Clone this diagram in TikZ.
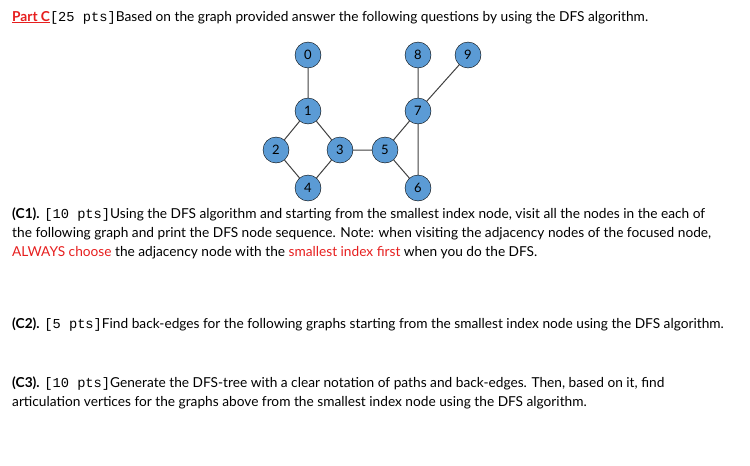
\documentclass[tikz,border=0pt]{standalone}
\usepackage{fontspec}
\setmainfont{Lato}
\newfontfamily\mono{Liberation Mono}
\definecolor{nodeblue}{RGB}{91,155,213}
\definecolor{redtxt}{RGB}{230,30,30}
\begin{document}
\begin{tikzpicture}[x=1pt,y=-1pt,
  vtx/.style={circle,draw=black,fill=nodeblue,minimum size=26pt,inner sep=0pt,font=\fontsize{13}{15}\selectfont},
  edge/.style={draw=black!75,line width=1pt},
  txt/.style={anchor=base west,inner sep=0pt,font=\fontsize{13.7}{16}\selectfont}]
\useasboundingbox (0,0) rectangle (750,466);
\node[vtx] (n0) at (308,55) {0};
\node[vtx] (n1) at (308,111) {1};
\node[vtx] (n2) at (276,150) {2};
\node[vtx] (n3) at (340,150) {3};
\node[vtx] (n4) at (308,188) {4};
\node[vtx] (n5) at (385,150) {5};
\node[vtx] (n7) at (418,111) {7};
\node[vtx] (n8) at (418,55) {8};
\node[vtx] (n9) at (468,55) {9};
\node[vtx] (n6) at (418,188) {6};
\draw[edge] (n0)--(n1) (n1)--(n2) (n1)--(n3) (n2)--(n4) (n3)--(n4) (n3)--(n5)
  (n5)--(n7) (n5)--(n6) (n7)--(n6) (n7)--(n8) (n7)--(n9);
\node[txt] (t1) at (12,21) {\textcolor{redtxt}{\underline{\textbf{Part C}}}{\mono[25 pts]}Based on the graph provided answer the following questions by using the DFS algorithm.};
\node[txt] (t2) at (12,218) {\textbf{(C1).} {\mono[10 pts]}Using the DFS algorithm and starting from the smallest index node, visit all the nodes in the each of};
\node[txt] (t3) at (12,237) {the following graph and print the DFS node sequence. Note: when visiting the adjacency nodes of the focused node,};
\node[txt] (t4) at (12,256) {\textcolor{redtxt}{ALWAYS choose} the adjacency node with the \textcolor{redtxt}{smallest index first} when you do the DFS.};
\node[txt] (t5) at (12,328) {\textbf{(C2).} {\mono[5 pts]}Find back-edges for the following graphs starting from the smallest index node using the DFS algorithm.};
\node[txt] (t6) at (12,387) {\textbf{(C3).} {\mono[10 pts]}Generate the DFS-tree with a clear notation of paths and back-edges. Then, based on it, find};
\node[txt] (t7) at (12,406) {articulation vertices for the graphs above from the smallest index node using the DFS algorithm.};
\end{tikzpicture}
\end{document}
